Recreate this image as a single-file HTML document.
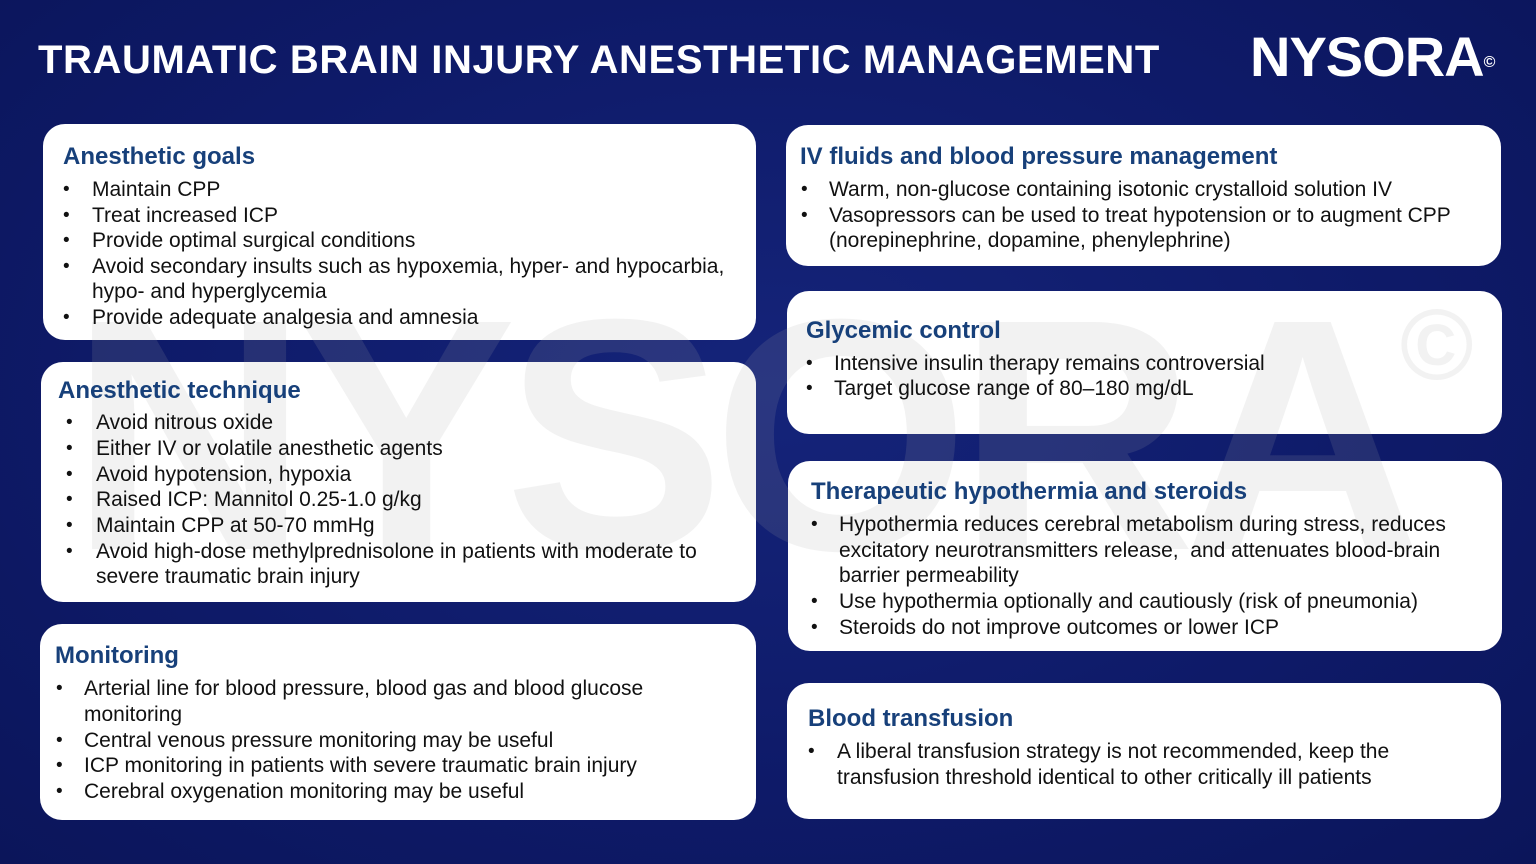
<!DOCTYPE html>
<html><head><meta charset="utf-8"><style>
*{margin:0;padding:0;box-sizing:border-box}
body{width:1536px;height:864px;overflow:hidden;background:radial-gradient(ellipse at 50% 45%,#15247a 0%,#0e1a68 60%,#0b155a 100%);font-family:"Liberation Sans",sans-serif;position:relative}
.card{position:absolute;background:#fff;border-radius:22px}
.t{position:absolute;white-space:nowrap;font-size:21px;color:#111;line-height:24px;letter-spacing:0;margin-top:1px}
.h{position:absolute;white-space:nowrap;font-size:24px;font-weight:bold;color:#17407a;line-height:28px;letter-spacing:0;margin-top:1px}
.b{position:absolute;font-size:19px;color:#111;line-height:24px;margin-top:1px}
#wm{position:absolute;left:70px;top:270px;font-size:330px;font-weight:bold;color:rgba(170,170,170,0.15);white-space:nowrap;letter-spacing:-12px;line-height:330px}
</style></head><body>
<div style="position:absolute;left:38px;top:36px;font-size:40px;font-weight:bold;color:#fff;white-space:nowrap;letter-spacing:0.6px;line-height:48px">TRAUMATIC BRAIN INJURY ANESTHETIC MANAGEMENT</div>
<div style="position:absolute;left:1250px;top:26px;font-size:56px;font-weight:bold;color:#fff;white-space:nowrap;line-height:62px;letter-spacing:-1px">NYSORA<span style="font-size:16px;vertical-align:top;position:relative;top:6px">©</span></div>

<div class="card" style="left:43px;top:124px;width:713px;height:216px"></div>
<div class="card" style="left:41px;top:362px;width:715px;height:240px"></div>
<div class="card" style="left:40px;top:624px;width:716px;height:196px"></div>
<div class="card" style="left:786px;top:125px;width:715px;height:141px"></div>
<div class="card" style="left:787px;top:291px;width:715px;height:143px"></div>
<div class="card" style="left:788px;top:461px;width:714px;height:190px"></div>
<div class="card" style="left:787px;top:683px;width:714px;height:136px"></div>

<div id="wm">NYSORA<span style="font-size:100px;vertical-align:top;position:relative;top:-90px;left:-10px;letter-spacing:0">©</span></div>

<!-- card 1 -->
<div class="h" style="left:63px;top:142px">Anesthetic goals</div>
<div class="b" style="left:63px;top:177px">•</div><div class="t" style="left:92px;top:177px">Maintain CPP</div>
<div class="b" style="left:63px;top:203px">•</div><div class="t" style="left:92px;top:203px">Treat increased ICP</div>
<div class="b" style="left:63px;top:228px">•</div><div class="t" style="left:92px;top:228px">Provide optimal surgical conditions</div>
<div class="b" style="left:63px;top:254px">•</div><div class="t" style="left:92px;top:254px">Avoid secondary insults such as hypoxemia, hyper- and hypocarbia,</div>
<div class="t" style="left:92px;top:279px">hypo- and hyperglycemia</div>
<div class="b" style="left:63px;top:305px">•</div><div class="t" style="left:92px;top:305px">Provide adequate analgesia and amnesia</div>

<!-- card 2 -->
<div class="h" style="left:58px;top:376px">Anesthetic technique</div>
<div class="b" style="left:66px;top:410px">•</div><div class="t" style="left:96px;top:410px">Avoid nitrous oxide</div>
<div class="b" style="left:66px;top:436px">•</div><div class="t" style="left:96px;top:436px">Either IV or volatile anesthetic agents</div>
<div class="b" style="left:66px;top:462px">•</div><div class="t" style="left:96px;top:462px">Avoid hypotension, hypoxia</div>
<div class="b" style="left:66px;top:487px">•</div><div class="t" style="left:96px;top:487px">Raised ICP: Mannitol 0.25-1.0 g/kg</div>
<div class="b" style="left:66px;top:513px">•</div><div class="t" style="left:96px;top:513px">Maintain CPP at 50-70 mmHg</div>
<div class="b" style="left:66px;top:539px">•</div><div class="t" style="left:96px;top:539px">Avoid high-dose methylprednisolone in patients with moderate to</div>
<div class="t" style="left:96px;top:564px">severe traumatic brain injury</div>

<!-- card 3 -->
<div class="h" style="left:55px;top:641px">Monitoring</div>
<div class="b" style="left:56px;top:676px">•</div><div class="t" style="left:84px;top:676px">Arterial line for blood pressure, blood gas and blood glucose</div>
<div class="t" style="left:84px;top:702px">monitoring</div>
<div class="b" style="left:56px;top:728px">•</div><div class="t" style="left:84px;top:728px">Central venous pressure monitoring may be useful</div>
<div class="b" style="left:56px;top:753px">•</div><div class="t" style="left:84px;top:753px">ICP monitoring in patients with severe traumatic brain injury</div>
<div class="b" style="left:56px;top:779px">•</div><div class="t" style="left:84px;top:779px">Cerebral oxygenation monitoring may be useful</div>

<!-- R1 -->
<div class="h" style="left:800px;top:142px">IV fluids and blood pressure management</div>
<div class="b" style="left:801px;top:177px">•</div><div class="t" style="left:829px;top:177px">Warm, non-glucose containing isotonic crystalloid solution IV</div>
<div class="b" style="left:801px;top:203px">•</div><div class="t" style="left:829px;top:203px">Vasopressors can be used to treat hypotension or to augment CPP</div>
<div class="t" style="left:829px;top:228px">(norepinephrine, dopamine, phenylephrine)</div>

<!-- R2 -->
<div class="h" style="left:806px;top:316px">Glycemic control</div>
<div class="b" style="left:806px;top:351px">•</div><div class="t" style="left:834px;top:351px">Intensive insulin therapy remains controversial</div>
<div class="b" style="left:806px;top:376px">•</div><div class="t" style="left:834px;top:376px">Target glucose range of 80–180 mg/dL</div>

<!-- R3 -->
<div class="h" style="left:811px;top:477px">Therapeutic hypothermia and steroids</div>
<div class="b" style="left:811px;top:512px">•</div><div class="t" style="left:839px;top:512px">Hypothermia reduces cerebral metabolism during stress, reduces</div>
<div class="t" style="left:839px;top:538px">excitatory neurotransmitters release,&nbsp; and attenuates blood-brain</div>
<div class="t" style="left:839px;top:563px">barrier permeability</div>
<div class="b" style="left:811px;top:589px">•</div><div class="t" style="left:839px;top:589px">Use hypothermia optionally and cautiously (risk of pneumonia)</div>
<div class="b" style="left:811px;top:615px">•</div><div class="t" style="left:839px;top:615px">Steroids do not improve outcomes or lower ICP</div>

<!-- R4 -->
<div class="h" style="left:808px;top:704px">Blood transfusion</div>
<div class="b" style="left:808px;top:739px">•</div><div class="t" style="left:837px;top:739px">A liberal transfusion strategy is not recommended, keep the</div>
<div class="t" style="left:837px;top:765px">transfusion threshold identical to other critically ill patients</div>
</body></html>
